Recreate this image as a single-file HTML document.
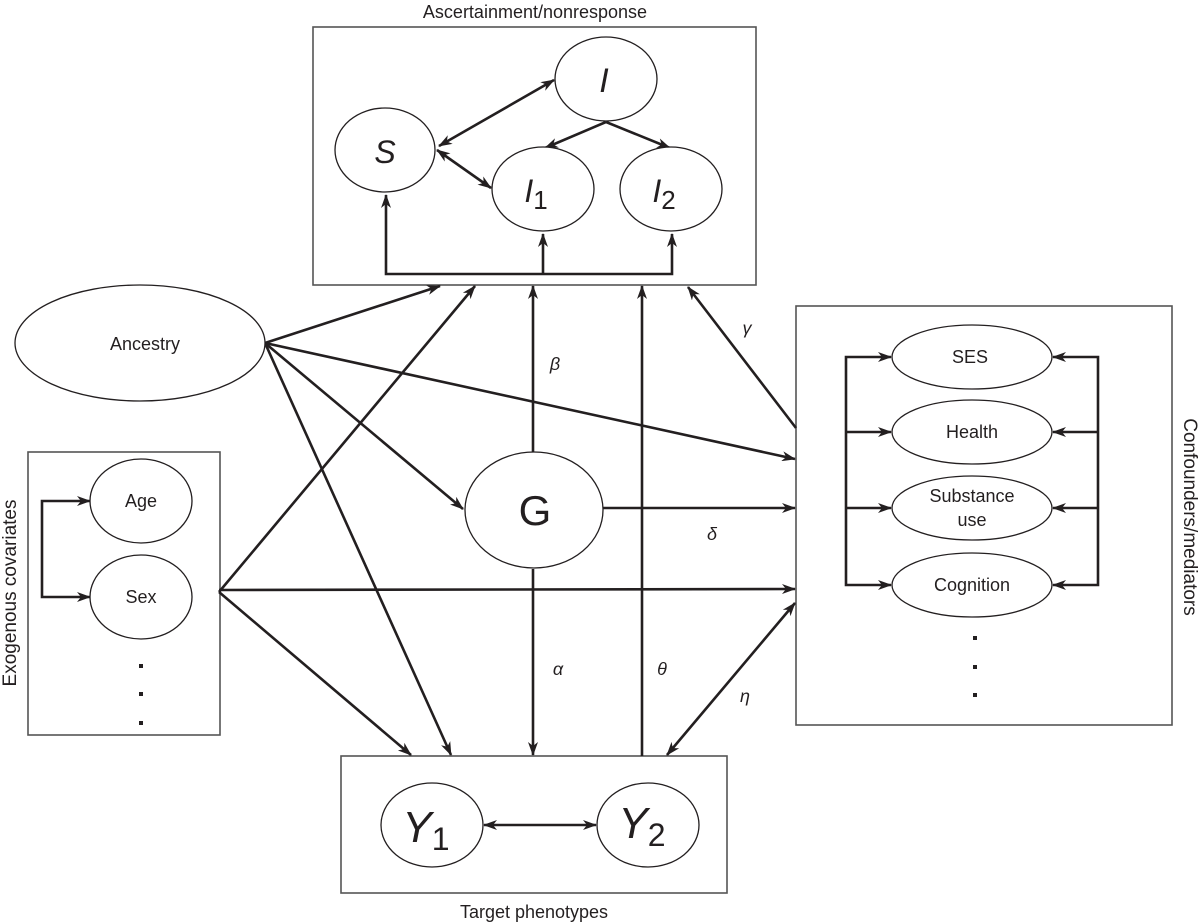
<!DOCTYPE html>
<html><head><meta charset="utf-8"><style>
html,body{margin:0;padding:0;background:#fff;}
svg{display:block;font-family:"Liberation Sans",sans-serif;}
</style></head><body>
<svg width="1200" height="922" viewBox="0 0 1200 922" xmlns="http://www.w3.org/2000/svg">
<defs>
<marker id="a" viewBox="0 0 14 10" refX="13" refY="5" markerWidth="14" markerHeight="10" orient="auto-start-reverse" markerUnits="userSpaceOnUse">
<path d="M0,0 L14,5 L0,10 L4,5 z" fill="#231f20"/>
</marker>
<style>
.b{fill:none;stroke:#555;stroke-width:1.6}
.e{fill:#fff;stroke:#231f20;stroke-width:1.3}
.l{fill:none;stroke:#231f20;stroke-width:2.6}
.t{fill:#231f20}
</style>
</defs>
<!-- boxes -->
<rect class="b" x="313" y="27" width="443" height="258"/>
<rect class="b" x="28" y="452" width="192" height="283"/>
<rect class="b" x="796" y="306" width="376" height="419"/>
<rect class="b" x="341" y="756" width="386" height="137"/>

<text class="t" x="535" y="18" font-size="18" text-anchor="middle">Ascertainment/nonresponse</text>
<text class="t" x="534" y="918" font-size="18" text-anchor="middle">Target phenotypes</text>
<text class="t" font-size="19" text-anchor="middle" transform="translate(16,593) rotate(-90)">Exogenous covariates</text>
<text class="t" font-size="19" text-anchor="middle" transform="translate(1184,517) rotate(90)">Confounders/mediators</text>

<!-- top box internals -->
<polyline class="l" points="386,195 386,274 672,274 672,234" marker-start="url(#a)" marker-end="url(#a)"/>
<line class="l" x1="543" y1="274" x2="543" y2="234" marker-end="url(#a)"/>
<line class="l" x1="439" y1="146" x2="554" y2="80" marker-start="url(#a)" marker-end="url(#a)"/>
<line class="l" x1="437" y1="150" x2="491" y2="188" marker-start="url(#a)" marker-end="url(#a)"/>
<line class="l" x1="606" y1="122" x2="545" y2="148" marker-end="url(#a)"/>
<line class="l" x1="606" y1="122" x2="670" y2="148" marker-end="url(#a)"/>
<ellipse class="e" cx="606" cy="79" rx="51" ry="42"/>
<ellipse class="e" cx="385" cy="150" rx="50" ry="42"/>
<ellipse class="e" cx="543" cy="189" rx="51" ry="42"/>
<ellipse class="e" cx="671" cy="189" rx="51" ry="42"/>
<text class="t" x="604" y="92" font-size="34" font-style="italic" text-anchor="middle">I</text>
<text class="t" x="385" y="163" font-size="32" font-style="italic" text-anchor="middle">S</text>
<text class="t" x="536" y="202" font-size="32" font-style="italic" text-anchor="middle">I<tspan font-style="normal" font-size="26" dy="7">1</tspan></text>
<text class="t" x="664" y="202" font-size="32" font-style="italic" text-anchor="middle">I<tspan font-style="normal" font-size="26" dy="7">2</tspan></text>

<!-- main arrows -->
<line class="l" x1="265" y1="343" x2="440" y2="286" marker-end="url(#a)"/>
<line class="l" x1="265" y1="343" x2="795" y2="459" marker-end="url(#a)"/>
<line class="l" x1="265" y1="343" x2="463" y2="509" marker-end="url(#a)"/>
<line class="l" x1="265" y1="343" x2="451" y2="755" marker-end="url(#a)"/>
<line class="l" x1="219" y1="592" x2="475" y2="286" marker-end="url(#a)"/>
<line class="l" x1="219" y1="590" x2="795" y2="589" marker-end="url(#a)"/>
<line class="l" x1="219" y1="592" x2="411" y2="755" marker-end="url(#a)"/>
<line class="l" x1="533" y1="452" x2="533" y2="286" marker-end="url(#a)"/>
<line class="l" x1="603" y1="508" x2="795" y2="508" marker-end="url(#a)"/>
<line class="l" x1="533" y1="569" x2="533" y2="755" marker-end="url(#a)"/>
<line class="l" x1="642" y1="756" x2="642" y2="286" marker-end="url(#a)"/>
<line class="l" x1="796" y1="428" x2="688" y2="287" marker-end="url(#a)"/>
<line class="l" x1="667" y1="755" x2="795" y2="603" marker-start="url(#a)" marker-end="url(#a)"/>

<text class="t" x="555" y="370" font-size="18" font-style="italic" text-anchor="middle">β</text>
<text class="t" x="747" y="334" font-size="18" font-style="italic" text-anchor="middle">γ</text>
<text class="t" x="712" y="540" font-size="18" font-style="italic" text-anchor="middle">δ</text>
<text class="t" x="558" y="675" font-size="18" font-style="italic" text-anchor="middle">α</text>
<text class="t" x="662" y="675" font-size="18" font-style="italic" text-anchor="middle">θ</text>
<text class="t" x="745" y="702" font-size="18" font-style="italic" text-anchor="middle">η</text>

<!-- Ancestry & G -->
<ellipse class="e" cx="140" cy="343" rx="125" ry="58"/>
<text class="t" x="145" y="350" font-size="18" text-anchor="middle">Ancestry</text>
<ellipse class="e" cx="534" cy="510" rx="69" ry="58"/>
<text class="t" x="535" y="525" font-size="42" text-anchor="middle">G</text>

<!-- exogenous -->
<polyline class="l" points="90,501 42,501 42,597 90,597" marker-start="url(#a)" marker-end="url(#a)"/>
<ellipse class="e" cx="141" cy="501" rx="51" ry="42"/>
<ellipse class="e" cx="141" cy="597" rx="51" ry="42"/>
<text class="t" x="141" y="507" font-size="18" text-anchor="middle">Age</text>
<text class="t" x="141" y="603" font-size="18" text-anchor="middle">Sex</text>
<rect x="139" y="664" width="4" height="4" fill="#231f20"/>
<rect x="139" y="692" width="4" height="4" fill="#231f20"/>
<rect x="139" y="721" width="4" height="4" fill="#231f20"/>

<!-- confounders -->
<polyline class="l" points="891,357 846,357 846,585 891,585" marker-start="url(#a)" marker-end="url(#a)"/>
<line class="l" x1="846" y1="432" x2="891" y2="432" marker-end="url(#a)"/>
<line class="l" x1="846" y1="508" x2="891" y2="508" marker-end="url(#a)"/>
<polyline class="l" points="1053,357 1098,357 1098,585 1053,585" marker-start="url(#a)" marker-end="url(#a)"/>
<line class="l" x1="1098" y1="432" x2="1053" y2="432" marker-end="url(#a)"/>
<line class="l" x1="1098" y1="508" x2="1053" y2="508" marker-end="url(#a)"/>
<ellipse class="e" cx="972" cy="357" rx="80" ry="32"/>
<ellipse class="e" cx="972" cy="432" rx="80" ry="32"/>
<ellipse class="e" cx="972" cy="508" rx="80" ry="32"/>
<ellipse class="e" cx="972" cy="585" rx="80" ry="32"/>
<text class="t" x="970" y="363" font-size="18" text-anchor="middle">SES</text>
<text class="t" x="972" y="438" font-size="18" text-anchor="middle">Health</text>
<text class="t" x="972" y="502" font-size="18" text-anchor="middle">Substance</text>
<text class="t" x="972" y="526" font-size="18" text-anchor="middle">use</text>
<text class="t" x="972" y="591" font-size="18" text-anchor="middle">Cognition</text>
<rect x="973" y="636" width="4" height="4" fill="#231f20"/>
<rect x="973" y="665" width="4" height="4" fill="#231f20"/>
<rect x="973" y="693" width="4" height="4" fill="#231f20"/>

<!-- target -->
<line class="l" x1="484" y1="825" x2="596" y2="825" marker-start="url(#a)" marker-end="url(#a)"/>
<ellipse class="e" cx="432" cy="825" rx="51" ry="42"/>
<ellipse class="e" cx="648" cy="825" rx="51" ry="42"/>
<text class="t" x="426" y="842" font-size="44" font-style="italic" text-anchor="middle">Y<tspan font-style="normal" font-size="32" dy="8">1</tspan></text>
<text class="t" x="642" y="838" font-size="44" font-style="italic" text-anchor="middle">Y<tspan font-style="normal" font-size="32" dy="8">2</tspan></text>
</svg>
</body></html>
